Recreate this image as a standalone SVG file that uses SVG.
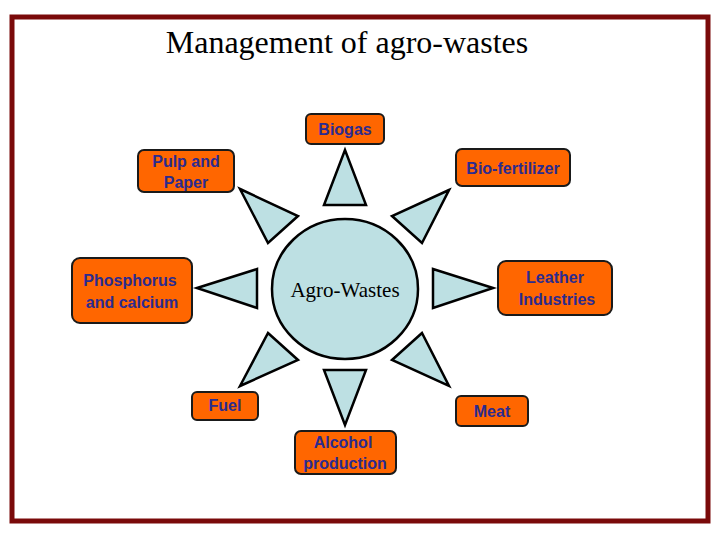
<svg xmlns="http://www.w3.org/2000/svg" width="720" height="540" viewBox="0 0 720 540">
<style>
.box{fill:#ff6600;stroke:#1a1a1a;stroke-width:2}
.lbl{font-family:"Liberation Sans",Arial,sans-serif;font-weight:bold;font-size:16px;fill:#2b2b8f;text-anchor:middle}
.tri{fill:#bde0e3;stroke:#000;stroke-width:2.5;stroke-linejoin:miter}
</style>
<rect x="0" y="0" width="720" height="540" fill="#fff"/>
<rect x="12" y="17" width="696" height="504" fill="none" stroke="#7a0a0a" stroke-width="5"/>
<text x="347" y="53" font-family="'Liberation Serif','Times New Roman',serif" font-size="32" text-anchor="middle">Management of agro-wastes</text>
<g id="center"><ellipse cx="345" cy="289" rx="73" ry="70" fill="#bde0e3" stroke="#000" stroke-width="2.5"/>
<text x="345" y="297" font-family="'Liberation Serif','Times New Roman',serif" font-size="21" text-anchor="middle">Agro-Wastes</text></g>
<g id="connectors">
<polygon class="tri" points="345,150 324,205 366,205"/>
<polygon class="tri" points="240,189 298,216 268,243"/>
<polygon class="tri" points="197,288 257,269 257,308"/>
<polygon class="tri" points="449,190 392,216 422,243"/>
<polygon class="tri" points="493,288 433,269 433,308"/>
<polygon class="tri" points="422,333 392,360 449,386"/>
<polygon class="tri" points="268,333 298,360 240,386"/>
<polygon class="tri" points="324,370 366,370 345,425"/>
</g>
<g id="biogas"><rect class="box" x="306" y="114" width="78" height="30" rx="5"/><text class="lbl" x="345" y="135">Biogas</text></g>
<g id="pulp"><rect class="box" x="138" y="150" width="96" height="42" rx="6"/><text class="lbl" x="186" y="167">Pulp and</text><text class="lbl" x="186" y="188">Paper</text></g>
<g id="phosphorus"><rect class="box" x="72" y="258" width="120" height="65" rx="8"/><text class="lbl" x="130" y="286">Phosphorus</text><text class="lbl" x="132" y="308">and calcium</text></g>
<g id="biofert"><rect class="box" x="456" y="149" width="114" height="37" rx="6"/><text class="lbl" x="513" y="174">Bio-fertilizer</text></g>
<g id="leather"><rect class="box" x="498" y="261" width="114" height="54" rx="8"/><text class="lbl" x="555" y="283">Leather</text><text class="lbl" x="557" y="305">Industries</text></g>
<g id="meat"><rect class="box" x="456" y="396" width="72" height="30" rx="5"/><text class="lbl" x="492" y="417">Meat</text></g>
<g id="fuel"><rect class="box" x="192" y="392" width="66" height="28" rx="5"/><text class="lbl" x="225" y="411">Fuel</text></g>
<g id="alcohol"><rect class="box" x="295" y="431" width="101" height="43" rx="6"/><text class="lbl" x="343" y="448">Alcohol</text><text class="lbl" x="345" y="469">production</text></g>
</svg>
